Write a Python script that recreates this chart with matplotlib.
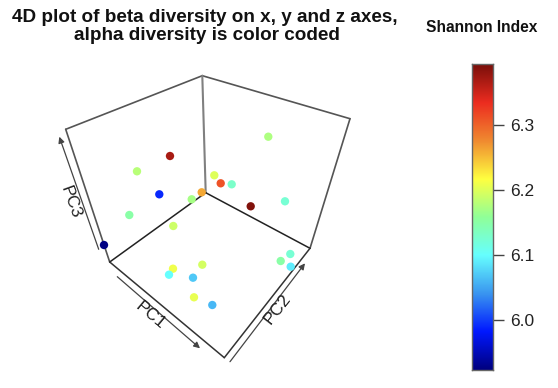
import numpy as np
from matplotlib import pyplot as plt
from matplotlib.colors import LinearSegmentedColormap, Normalize

# coordonnees projetees, lues en pixels sur l'image
px = [268.3, 170, 137, 214.3, 220.7, 231.7, 201.7, 159.3, 191.7, 250.7, 285, 129.3,
      173.3, 104, 290.3, 280.7, 290.7, 202.3, 173, 169, 193, 194, 212.3]
py = [136.7, 156, 171.3, 175.3, 183.3, 184.3, 192.3, 194.3, 199.3, 206.3, 201.3, 215,
      226, 245, 254, 261, 266.7, 264.7, 268.7, 274.7, 277.7, 297.3, 305]
shannon = [6.175, 6.37, 6.18, 6.2, 6.31, 6.13, 6.26, 5.99, 6.17, 6.39, 6.125, 6.15,
           6.19, 5.925, 6.125, 6.15, 6.09, 6.195, 6.21, 6.1, 6.07, 6.205, 6.06]

# sommets de la boite
top = (202.3, 75.7)
left = (65.7, 129.3)
right = (350, 118.7)
back = (205.7, 192.7)
lleft = (109.7, 262)
lright = (310, 248.3)
bottom = (224.3, 357.7)

vmin, vmax = 5.923, 6.394
ticks = [6.0, 6.1, 6.2, 6.3]
jet = ['#00007F', '#0018FF', '#3A96F0', '#66FFFF', '#90FF98', '#FFFF40', '#F08A30', '#EC2C20', '#7A0F0A']

cmap = LinearSegmentedColormap.from_list('jetcolors', jet, N=256)
norm = Normalize(vmin=vmin, vmax=vmax)

fig = plt.figure(figsize=(5.58, 3.88), dpi=100)
ax = fig.add_axes([0, 0, 1, 1])
ax.set_xlim(0, 558)
ax.set_ylim(388, 0)
ax.axis('off')

def seg(a, b, col='#555555', lw=1.2):
  ax.plot([a[0], b[0]], [a[1], b[1]], color=col, lw=lw, solid_capstyle='round', zorder=1)

seg(top, left)
seg(top, right)
seg(top, back, '#808080', 1.5)
seg(left, lleft)
seg(right, lright)
seg(back, lleft, '#222222', 1.1)
seg(back, lright, '#222222', 1.1)
seg(lleft, bottom, '#333333', 1.1)
seg(bottom, lright, '#333333', 1.1)

# fleches des axes
def fleche(a, b):
  ax.annotate('', xy=b, xytext=a, zorder=1,
              arrowprops=dict(arrowstyle='-|>', color='#444444', lw=0.9, mutation_scale=9,
                              shrinkA=0, shrinkB=0))

fleche((98.7, 249.3), (59.3, 136.7))
fleche((117.3, 276.7), (200, 348.3))
fleche((230, 361.7), (305, 263.3))

ft = 'Liberation Sans'
ax.text(71, 202, 'PC3', rotation=-70, ha='center', va='center', fontsize=12.5, family=ft, color='#222222')
ax.text(150.7, 315, 'PC1', rotation=-40, ha='center', va='center', fontsize=12.5, family=ft, color='#222222')
ax.text(277.3, 309.3, 'PC2', rotation=52, ha='center', va='center', fontsize=12.5, family=ft, color='#222222')

ax.scatter(px, py, c=shannon, cmap=cmap, norm=norm, s=36, linewidths=0, zorder=3)

ax.text(204.5, 17.5, '4D plot of beta diversity on x, y and z axes,', ha='center', va='center',
        fontsize=13.6, fontweight='bold', family=ft, color='#111111')
ax.text(207, 36, 'alpha diversity is color coded', ha='center', va='center',
        fontsize=13.6, fontweight='bold', family=ft, color='#111111')
ax.text(482, 27, 'Shannon Index', ha='center', va='center', fontsize=11.2, fontweight='bold', family=ft, color='#111111')

# barre de couleur
cax = fig.add_axes([472 / 558, 1 - 370 / 388, 20.5 / 558, 306 / 388])
grad = np.linspace(vmax, vmin, 256).reshape(-1, 1)
cax.imshow(grad, aspect='auto', cmap=cmap, norm=norm, extent=[0, 1, vmin, vmax])
cax.set_xticks([])
cax.yaxis.tick_right()
cax.set_yticks(ticks)
cax.set_yticklabels(['%.1f' % t for t in ticks], family=ft, fontsize=12.5, color='#222222')
cax.tick_params(axis='y', length=8, width=1, color='#444444', pad=5)
for s in cax.spines.values():
  s.set_color('#666666')
  s.set_linewidth(1)

fig.savefig('out.png', dpi=100)
